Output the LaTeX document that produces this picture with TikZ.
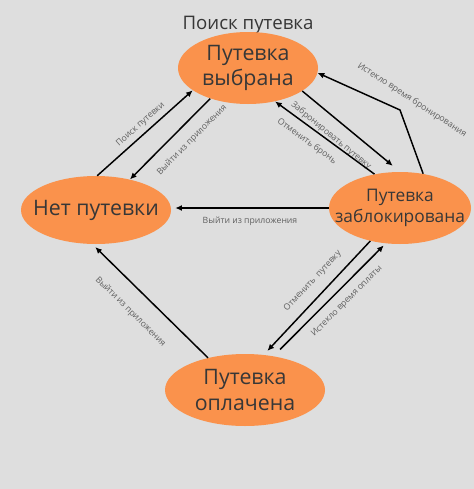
\documentclass[tikz,border=0pt]{standalone}
\usepackage{fontspec}
\setmainfont{Open Sans}
\usepackage{tikz}
\usetikzlibrary{arrows.meta,shapes.geometric}
\definecolor{bggray}{RGB}{222,222,222}
\definecolor{stateorange}{RGB}{250,146,76}
\definecolor{textgray}{RGB}{55,55,55}
\definecolor{labelgray}{RGB}{95,95,95}

\begin{document}
\begin{tikzpicture}[x=0.75pt, y=-0.75pt,
	state/.style={ellipse, fill=stateorange, inner xsep=-15pt, inner ysep=0pt, align=center, text=textgray, font=\fontsize{16}{19}\selectfont},
	link/.style={line width=1.1pt, -{Latex[length=5pt,width=4.5pt]}},
	lbl/.style={font=\fontsize{6.5}{7}\selectfont, text=labelgray, sloped}]
			%%%%% START %%%%%
			
			\fill[bggray] (0, 0) rectangle (474, 489);
			\useasboundingbox (0, 0) rectangle (474, 489);
			
			\node[font=\fontsize{14}{16}\selectfont, text=textgray] (title) at (248, 25) {Поиск путевка};
			
			\node[state, minimum width=105pt, minimum height=54pt] (chosen) at (248, 68) {Путевка\\выбрана};
			\node[state, minimum width=112.5pt, minimum height=51pt] (none) at (96, 210) {Нет путевки};
			\node[state, minimum width=106.5pt, minimum height=54pt, font=\fontsize{13}{16}\selectfont] (locked) at (400, 208) {Путевка\\заблокирована};
			\node[state, minimum width=120pt, minimum height=54pt] (paid) at (245, 390) {Путевка\\оплачена};
			
			\draw[link] (none.88) -- (chosen.202) node[lbl, above, pos=0.52] {Поиск путевки};
			\draw[link] (chosen.219) -- (none.42) node[lbl, below=5pt, pos=0.37] {Выйти из приложения};
			
			\draw[link, shorten >=7pt] (chosen.-23) -- (locked.90) node[lbl, below=5pt, pos=0.4] {Забронировать путевку};
			\draw[link] (locked.127) -- (chosen.-51) node[lbl, below=3pt, pos=0.6] {Отменить бронь};
			
			\coordinate (bend) at (400, 110);
			\draw[link] (locked.56) -- (bend) -- (chosen.-4);
			\node[font=\fontsize{6.5}{7}\selectfont, text=labelgray, rotate=-33] (expired) at (412, 100) {Истекло время бронирования};
			
			\draw[link, shorten >=3pt] (locked.west) -- (locked.west -| none.east) node[lbl, below=3pt, pos=0.5] {Выйти из приложения};
			
			\draw[link, shorten >=3pt] (paid.139) -- (none.-96) node[lbl, below=9pt, pos=0.54] {Выйти из приложения};
			
			\draw[link, shorten >=4pt] (locked.228) -- (paid.62) node[lbl, above=4pt, pos=0.44] {Отменить\ \ путевку};
			\draw[link, shorten <=7pt, shorten >=2pt] (paid.50) -- (locked.248) node[lbl, below=3pt, pos=0.57] {Истекло время оплаты};
			
			%%%%% END %%%%%
\end{tikzpicture}
\end{document}
